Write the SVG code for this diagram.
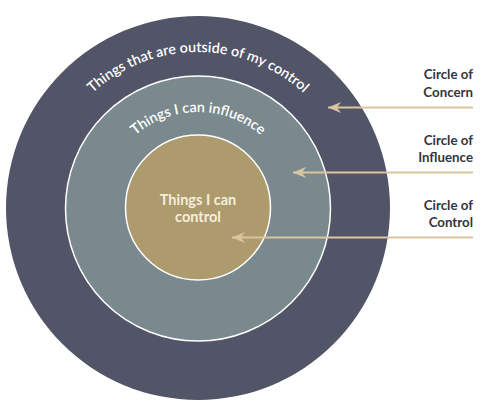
<svg xmlns="http://www.w3.org/2000/svg" width="480" height="407" viewBox="0 0 480 407">
<style>
.curve{font-family:Lato,"Noto Sans",sans-serif;font-size:14.3px;fill:#ffffff;font-weight:600}
.center{font-family:Lato,"Noto Sans",sans-serif;font-size:14.5px;fill:#f5eedf;font-weight:700;text-anchor:middle}
.label{font-family:Lato,"Noto Sans",sans-serif;font-size:13.3px;fill:#33343e;font-weight:700;text-anchor:end}
.arrow{stroke:#d9c59f;stroke-width:2;fill:none;marker-end:url(#ah)}
</style>
<defs>
<marker id="ah" markerUnits="userSpaceOnUse" markerWidth="16" markerHeight="14" refX="14" refY="6" orient="auto" viewBox="0 0 16 12">
<path d="M14 6 L1 0.5 L5 6 L1 11.5 Z" fill="#d9c59f"/>
</marker>
<path id="arcOuter" d="M 42 208 A 156 156 0 0 1 354 208"/>
<path id="arcMid" d="M 102 208 A 96 96 0 0 1 294 208"/>
</defs>
<rect width="480" height="407" fill="#ffffff"/>
<g id="concern">
<circle cx="198" cy="208" r="192" fill="#525467"/>
<text class="curve"><textPath href="#arcOuter" startOffset="50%" text-anchor="middle">Things that are outside of my control</textPath></text>
</g>
<g id="influence">
<circle cx="198" cy="208.5" r="132.5" fill="#7a898d" stroke="#ffffff" stroke-width="1.5"/>
<text class="curve"><textPath href="#arcMid" startOffset="50%" text-anchor="middle">Things I can influence</textPath></text>
</g>
<g id="control">
<circle cx="198" cy="207.5" r="72.5" fill="#ad9a6d" stroke="#ffffff" stroke-width="1.5"/>
<text class="center" x="198" y="205">Things I can</text>
<text class="center" x="198" y="222">control</text>
</g>
<g id="label-concern">
<text class="label" x="473" y="79">Circle of</text>
<text class="label" x="473" y="96.5">Concern</text>
</g>
<g id="label-influence">
<text class="label" x="473" y="144.5">Circle of</text>
<text class="label" x="473" y="161.5">Influence</text>
</g>
<g id="label-control">
<text class="label" x="473" y="210">Circle of</text>
<text class="label" x="473" y="227">Control</text>
</g>
<g id="connectors">
<line class="arrow" x1="473" y1="107.5" x2="328" y2="107.5"/>
<line class="arrow" x1="473" y1="172.5" x2="293" y2="172.5"/>
<line class="arrow" x1="473" y1="237.5" x2="232" y2="237.5"/>
</g>
</svg>
